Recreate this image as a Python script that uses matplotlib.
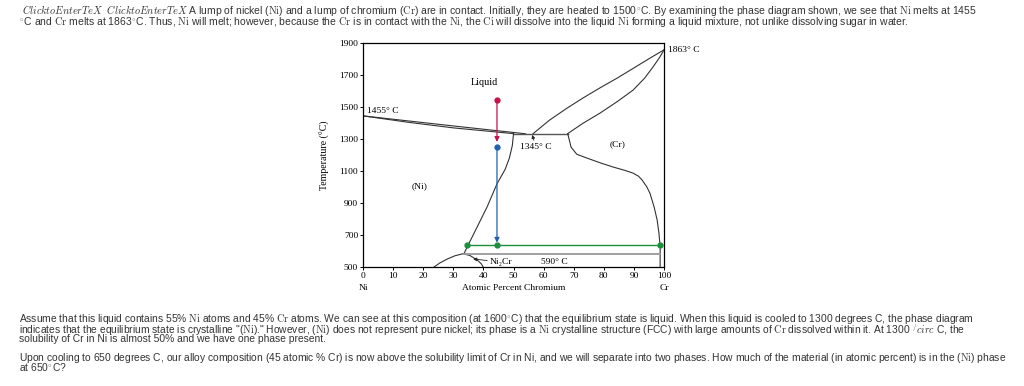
import matplotlib
matplotlib.use("Agg")
import matplotlib.pyplot as plt

plt.rcParams['mathtext.fontset'] = 'cm'

# Ni-side liquidus / solidus (from Ni melting point to the eutectic)
liq_ni_x = [0, 30, 54]
liq_ni_T = [1445, 1382, 1333]
sol_ni_x = [0, 15, 30, 50]
sol_ni_T = [1445, 1405, 1370, 1334]

# Eutectic horizontal
eut_x = [50, 68]
eut_T = [1334, 1334]

# Cr-side liquidus / solidus (up to Cr melting point)
liq_cr_x = [56.5, 62, 67.5, 73, 78.7, 84.4, 90, 95.3, 100]
liq_cr_T = [1334, 1419, 1490, 1556, 1620, 1681, 1745, 1806, 1858]
sol_cr_x = [68, 73, 78.7, 84.5, 89.7, 93.5, 96.3, 98.5, 100]
sol_cr_T = [1334, 1398, 1462, 1535, 1606, 1680, 1750, 1810, 1858]

# (Ni) solvus
solv_ni_x = [50, 49.6, 48.6, 47.2, 44.5, 41.2, 37.9, 34.6, 33.6]
solv_ni_T = [1334, 1260, 1180, 1110, 1020, 875, 750, 625, 585]

# (Cr) solvus
solv_cr_x = [68, 69.1, 71, 74.4, 79, 83.1, 87, 89.7, 91.5, 92.7, 94.3, 95.3, 96.7, 97.7, 98.3, 98.7, 98.7]
solv_cr_T = [1334, 1250, 1205, 1181, 1150, 1125, 1104, 1087, 1068, 1044, 1000, 962, 875, 794, 712, 625, 500]

# Ni2Cr dome
dome_x = [23.6, 25.5, 28, 30.5, 33.2, 35.5, 37.9, 39.3, 39.9]
dome_T = [500, 525, 550, 570, 583, 572, 544, 520, 500]

# 590 C line
eutd_x = [33.6, 98.7]
eutd_T = [583, 583]

# alloy path
alloy_x = 44.5
red_T = [1545, 1282]
blue_T = [1248, 652]
tie_x = [34.5, 44.5, 98.7]
tie_T = 635

yticks = [500, 700, 900, 1100, 1300, 1500, 1700, 1900]
xticks = [0, 10, 20, 30, 40, 50, 60, 70, 80, 90, 100]

top_lines = [
    r"$ClicktoEnterTeX$  $ClicktoEnterTeX$ A lump of nickel ($\mathrm{Ni}$) and a lump of chromium ($\mathrm{Cr}$) are in contact. Initially, they are heated to 1500$^{\circ}$C. By examining the phase diagram shown, we see that $\mathrm{Ni}$ melts at 1455",
    r"$^{\circ}$C and $\mathrm{Cr}$ melts at 1863$^{\circ}$C. Thus, $\mathrm{Ni}$ will melt; however, because the $\mathrm{Cr}$ is in contact with the $\mathrm{Ni}$, the $\mathrm{Ci}$ will dissolve into the liquid $\mathrm{Ni}$ forming a liquid mixture, not unlike dissolving sugar in water.",
]
bottom_lines = [
    r"Assume that this liquid contains 55% $\mathrm{Ni}$ atoms and 45% $\mathrm{Cr}$ atoms. We can see at this composition (at 1600$^{\circ}$C) that the equilibrium state is liquid. When this liquid is cooled to 1300 degrees C, the phase diagram",
    r'indicates that the equilibrium state is crystalline "($\mathrm{Ni}$)." However, ($\mathrm{Ni}$) does not represent pure nickel; its phase is a $\mathrm{Ni}$ crystalline structure (FCC) with large amounts of $\mathrm{Cr}$ dissolved within it. At 1300 $^{/}circ$ C, the',
    "solubility of Cr in Ni is almost 50% and we have one phase present.",
    r"Upon cooling to 650 degrees C, our alloy composition (45 atomic % Cr) is now above the solubility limit of Cr in Ni, and we will separate into two phases. How much of the material (in atomic percent) is in the ($\mathrm{Ni}$) phase",
    r"at 650$^{\circ}$C?",
]

fig = plt.figure(figsize=(10.24, 3.86), dpi=100)
ax = fig.add_axes([0.3545, 0.3083, 0.294, 0.580])

lc = '#333333'
lw = 0.8
ax.plot(liq_ni_x, liq_ni_T, color=lc, lw=lw)
ax.plot(sol_ni_x, sol_ni_T, color=lc, lw=lw)
ax.plot(eut_x, eut_T, color='#555555', lw=1.0)
ax.plot(liq_cr_x, liq_cr_T, color=lc, lw=lw)
ax.plot(sol_cr_x, sol_cr_T, color=lc, lw=lw)
ax.plot(solv_ni_x, solv_ni_T, color=lc, lw=lw)
ax.plot(solv_cr_x, solv_cr_T, color=lc, lw=lw)
ax.plot(dome_x, dome_T, color=lc, lw=lw)
ax.plot(eutd_x, eutd_T, color='#999999', lw=1.3)

red = '#c8124a'
blue = '#2060b0'
green = '#1b8f3c'
ax.annotate('', xy=(alloy_x, red_T[1]), xytext=(alloy_x, red_T[0]),
            arrowprops=dict(arrowstyle='-|>', color=red, lw=0.9, mutation_scale=7, shrinkA=0, shrinkB=0))
ax.plot([alloy_x], [red_T[0]], 'o', color=red, ms=3.5)
ax.annotate('', xy=(alloy_x, blue_T[1]), xytext=(alloy_x, blue_T[0]),
            arrowprops=dict(arrowstyle='-|>', color=blue, lw=0.9, mutation_scale=7, shrinkA=0, shrinkB=0))
ax.plot([alloy_x], [blue_T[0]], 'o', color=blue, ms=3.5)
ax.plot([tie_x[0], tie_x[-1]], [tie_T, tie_T], color=green, lw=1.0)
ax.plot(tie_x, [tie_T] * 3, 'o', color=green, ms=3.5)

serif = ['Liberation Serif', 'DejaVu Serif']
fs = 6.8
ax.text(40.2, 1656, 'Liquid', family=serif, fontsize=fs + 0.5, ha='center', va='center')
ax.text(1.3, 1478, '1455° C', family=serif, fontsize=fs, ha='left', va='center')
ax.text(84.4, 1269, '(Cr)', family=serif, fontsize=fs, ha='center', va='center')
ax.text(18.9, 1006, '(Ni)', family=serif, fontsize=fs, ha='center', va='center')
ax.text(101.4, 1858, '1863° C', family=serif, fontsize=fs, ha='left', va='center', clip_on=False)
ax.text(63.7, 533, '590° C', family=serif, fontsize=fs, ha='center', va='center')
ax.annotate('1345° C', xy=(56.2, 1326), xytext=(52.2, 1250), family=serif, fontsize=fs,
            ha='left', va='center',
            arrowprops=dict(arrowstyle='-|>', color='#222222', lw=0.6, mutation_scale=5, shrinkA=0, shrinkB=0))
ax.annotate('Ni₂Cr', xy=(36.6, 550), xytext=(42.2, 531), family=serif, fontsize=fs,
            ha='left', va='center',
            arrowprops=dict(arrowstyle='-|>', color='#222222', lw=0.6, mutation_scale=5, shrinkA=0, shrinkB=0))

ax.set_xlim(0, 100)
ax.set_ylim(500, 1900)
ax.set_xticks(xticks)
ax.set_yticks(yticks)
ax.tick_params(direction='out', length=2.5, width=0.7, labelsize=fs, pad=1)
for lab in ax.get_xticklabels() + ax.get_yticklabels():
    lab.set_family(serif)
for s in ax.spines.values():
    s.set_linewidth(0.9)

ax.text(0.5, -0.094, 'Atomic Percent Chromium', transform=ax.transAxes, family=serif,
        fontsize=fs, ha='center', va='center')
ax.text(0.0, -0.094, 'Ni', transform=ax.transAxes, family=serif, fontsize=fs, ha='center', va='center')
ax.text(1.0, -0.094, 'Cr', transform=ax.transAxes, family=serif, fontsize=fs, ha='center', va='center')
ax.text(-0.125, 0.5, 'Temperature (°C)', transform=ax.transAxes, family=serif, fontsize=fs + 0.3,
        ha='center', va='center', rotation=90)

tc = '#333333'
sans = ['Liberation Sans', 'DejaVu Sans']
pfs = 7.35
top_x = [22, 19]
top_y = [10, 22]
for t, x, y in zip(top_lines, top_x, top_y):
    fig.text(x / 1024, 1 - y / 386, t, family=sans, fontsize=pfs + 0.1, color=tc, ha='left', va='center')
bot_y = [319.5, 329.5, 339.5, 358, 367]
for t, y in zip(bottom_lines, bot_y):
    fig.text(19 / 1024, 1 - y / 386, t, family=sans, fontsize=pfs, color=tc, ha='left', va='center')

fig.savefig('out.png', dpi=100, facecolor='white')
